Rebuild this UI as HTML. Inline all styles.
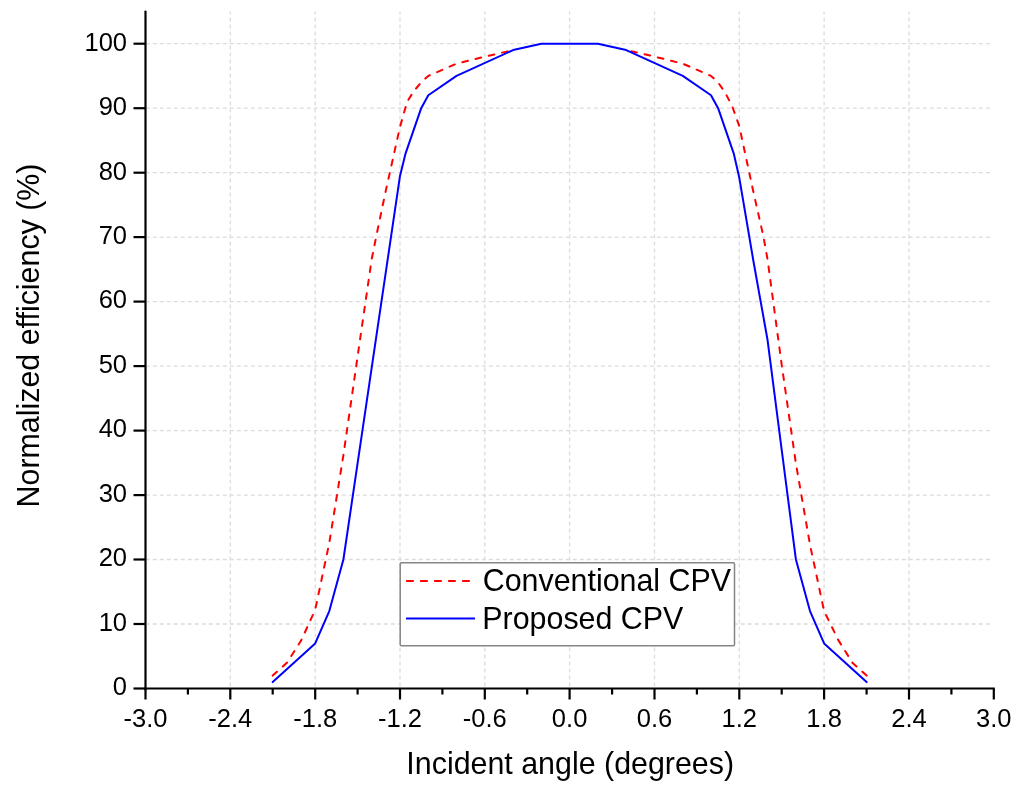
<!DOCTYPE html>
<html><head><meta charset="utf-8"><title>Normalized efficiency vs incident angle</title>
<style>
html,body{margin:0;padding:0;background:#fff;}
svg{display:block;}
text{font-family:"Liberation Sans",Arial,sans-serif;fill:#000;}
</style></head><body>
<svg width="1024" height="797" viewBox="0 0 1024 797">
<rect width="1024" height="797" fill="#fff"/>
<g stroke="#dcdcdc" stroke-width="1.3" stroke-dasharray="4 3" fill="none"><line x1="230.3" y1="11.5" x2="230.3" y2="687.5" stroke-dashoffset="1"/><line x1="315.2" y1="11.5" x2="315.2" y2="687.5" stroke-dashoffset="1"/><line x1="400.0" y1="11.5" x2="400.0" y2="687.5" stroke-dashoffset="1"/><line x1="484.8" y1="11.5" x2="484.8" y2="687.5" stroke-dashoffset="1"/><line x1="569.6" y1="11.5" x2="569.6" y2="687.5" stroke-dashoffset="1"/><line x1="654.5" y1="11.5" x2="654.5" y2="687.5" stroke-dashoffset="1"/><line x1="739.3" y1="11.5" x2="739.3" y2="687.5" stroke-dashoffset="1"/><line x1="824.1" y1="11.5" x2="824.1" y2="687.5" stroke-dashoffset="1"/><line x1="909.0" y1="11.5" x2="909.0" y2="687.5" stroke-dashoffset="1"/><line x1="146.5" y1="624.0" x2="993" y2="624.0" stroke-dashoffset="0.7"/><line x1="146.5" y1="559.5" x2="993" y2="559.5" stroke-dashoffset="0.7"/><line x1="146.5" y1="495.1" x2="993" y2="495.1" stroke-dashoffset="0.7"/><line x1="146.5" y1="430.6" x2="993" y2="430.6" stroke-dashoffset="0.7"/><line x1="146.5" y1="366.1" x2="993" y2="366.1" stroke-dashoffset="0.7"/><line x1="146.5" y1="301.6" x2="993" y2="301.6" stroke-dashoffset="0.7"/><line x1="146.5" y1="237.1" x2="993" y2="237.1" stroke-dashoffset="0.7"/><line x1="146.5" y1="172.7" x2="993" y2="172.7" stroke-dashoffset="0.7"/><line x1="146.5" y1="108.2" x2="993" y2="108.2" stroke-dashoffset="0.7"/><line x1="146.5" y1="43.7" x2="993" y2="43.7" stroke-dashoffset="0.7"/></g>
<g fill="none" stroke="#ff0000" stroke-width="2" stroke-dasharray="5.7 7.9" stroke-linecap="round" stroke-linejoin="round"><polyline points="272.7,675.6 286.9,662.7 301.0,640.8 315.2,609.8 329.3,542.8 343.4,455.1 357.6,356.4 371.7,259.1 377.4,230.7 385.9,190.1 400.0,126.9 407.1,101.7 414.1,90.8 421.2,82.4 428.3,75.9 456.5,63.7 484.8,56.6 513.1,50.1"/><polyline points="866.6,675.6 852.4,662.7 838.3,640.1 824.1,611.1 810.0,544.7 795.9,463.5 781.7,364.8 767.6,259.7 763.3,235.9 753.4,192.0 739.3,126.2 732.2,106.2 725.2,92.7 718.1,82.4 711.0,75.9 682.8,63.7 654.5,56.6 626.2,50.1"/></g>
<polyline fill="none" stroke="#0000ff" stroke-width="2" stroke-linecap="round" stroke-linejoin="round" points="272.7,682.1 315.2,643.4 329.3,611.1 343.4,559.5 400.0,175.9 405.6,153.3 421.2,108.2 428.3,95.3 456.5,75.9 513.1,50.1 541.4,43.7 597.9,43.7 626.2,50.1 682.8,75.9 711.0,95.3 718.1,108.2 733.7,153.3 739.3,177.8 753.4,261.0 767.6,340.3 781.7,449.9 795.9,559.5 810.0,611.1 824.1,643.4 866.6,682.1"/>
<g stroke="#000" stroke-width="2.2" fill="none"><line x1="145.5" y1="11.6" x2="145.5" y2="689.5" stroke-linecap="round"/><line x1="144.5" y1="688.5" x2="994.8" y2="688.5"/><line x1="145.5" y1="688.5" x2="145.5" y2="699.5"/><line x1="230.3" y1="688.5" x2="230.3" y2="699.5"/><line x1="315.2" y1="688.5" x2="315.2" y2="699.5"/><line x1="400.0" y1="688.5" x2="400.0" y2="699.5"/><line x1="484.8" y1="688.5" x2="484.8" y2="699.5"/><line x1="569.6" y1="688.5" x2="569.6" y2="699.5"/><line x1="654.5" y1="688.5" x2="654.5" y2="699.5"/><line x1="739.3" y1="688.5" x2="739.3" y2="699.5"/><line x1="824.1" y1="688.5" x2="824.1" y2="699.5"/><line x1="909.0" y1="688.5" x2="909.0" y2="699.5"/><line x1="993.8" y1="688.5" x2="993.8" y2="699.5"/><line x1="187.9" y1="688.5" x2="187.9" y2="694.5"/><line x1="272.7" y1="688.5" x2="272.7" y2="694.5"/><line x1="357.6" y1="688.5" x2="357.6" y2="694.5"/><line x1="442.4" y1="688.5" x2="442.4" y2="694.5"/><line x1="527.2" y1="688.5" x2="527.2" y2="694.5"/><line x1="612.1" y1="688.5" x2="612.1" y2="694.5"/><line x1="696.9" y1="688.5" x2="696.9" y2="694.5"/><line x1="781.7" y1="688.5" x2="781.7" y2="694.5"/><line x1="866.6" y1="688.5" x2="866.6" y2="694.5"/><line x1="951.4" y1="688.5" x2="951.4" y2="694.5"/><line x1="133.5" y1="688.5" x2="145.5" y2="688.5"/><line x1="133.5" y1="624.0" x2="145.5" y2="624.0"/><line x1="133.5" y1="559.5" x2="145.5" y2="559.5"/><line x1="133.5" y1="495.1" x2="145.5" y2="495.1"/><line x1="133.5" y1="430.6" x2="145.5" y2="430.6"/><line x1="133.5" y1="366.1" x2="145.5" y2="366.1"/><line x1="133.5" y1="301.6" x2="145.5" y2="301.6"/><line x1="133.5" y1="237.1" x2="145.5" y2="237.1"/><line x1="133.5" y1="172.7" x2="145.5" y2="172.7"/><line x1="133.5" y1="108.2" x2="145.5" y2="108.2"/><line x1="133.5" y1="43.7" x2="145.5" y2="43.7"/></g>
<g font-size="25.5"><text x="145.5" y="726.5" text-anchor="middle">-3.0</text><text x="230.3" y="726.5" text-anchor="middle">-2.4</text><text x="315.2" y="726.5" text-anchor="middle">-1.8</text><text x="400.0" y="726.5" text-anchor="middle">-1.2</text><text x="484.8" y="726.5" text-anchor="middle">-0.6</text><text x="569.6" y="726.5" text-anchor="middle">0.0</text><text x="654.5" y="726.5" text-anchor="middle">0.6</text><text x="739.3" y="726.5" text-anchor="middle">1.2</text><text x="824.1" y="726.5" text-anchor="middle">1.8</text><text x="909.0" y="726.5" text-anchor="middle">2.4</text><text x="993.8" y="726.5" text-anchor="middle">3.0</text><text x="127" y="695.3" text-anchor="end">0</text><text x="127" y="630.8" text-anchor="end">10</text><text x="127" y="566.3" text-anchor="end">20</text><text x="127" y="501.9" text-anchor="end">30</text><text x="127" y="437.4" text-anchor="end">40</text><text x="127" y="372.9" text-anchor="end">50</text><text x="127" y="308.4" text-anchor="end">60</text><text x="127" y="243.9" text-anchor="end">70</text><text x="127" y="179.5" text-anchor="end">80</text><text x="127" y="115.0" text-anchor="end">90</text><text x="127" y="50.5" text-anchor="end">100</text></g>
<text transform="translate(570.2,773.9) scale(1,1.05)" font-size="30.4" text-anchor="middle">Incident angle (degrees)</text>
<text transform="translate(39.3,335.5) rotate(-90) scale(1,1.05)" font-size="30.4" text-anchor="middle">Normalized efficiency (%)</text>
<rect x="400.2" y="562.8" width="334.3" height="83" rx="1.2" fill="#fff" stroke="#858585" stroke-width="1.5"/>
<line x1="406.8" y1="581" x2="475" y2="581" stroke="#ff0000" stroke-width="1.8" stroke-dasharray="6.3 7.7" stroke-linecap="round"/>
<line x1="406" y1="618.5" x2="475" y2="618.5" stroke="#0000ff" stroke-width="1.9"/>
<text transform="translate(482.7,591.3) scale(1,1.05)" font-size="30.4">Conventional CPV</text>
<text transform="translate(482.3,628.6) scale(1,1.05)" font-size="30.4">Proposed CPV</text>
</svg>
</body></html>
